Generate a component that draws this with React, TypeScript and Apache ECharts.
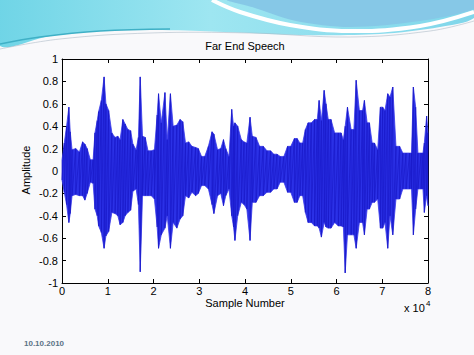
import React, { useEffect, useRef } from "react";
import * as echarts from "echarts";

// sample positions (x 10^4 samples)
const envX = [
  0.0, 0.05, 0.1, 0.15, 0.18, 0.22, 0.3, 0.38, 0.45, 0.5, 0.55, 0.62, 0.68, 0.72, 0.77, 0.8, 0.86, 0.92, 0.96,
  1.02, 1.09, 1.16, 1.22, 1.27, 1.33, 1.38, 1.44, 1.5, 1.55, 1.62, 1.67, 1.71, 1.76, 1.82, 1.88, 1.95,
  2.02, 2.08, 2.11, 2.17, 2.25, 2.3, 2.37, 2.43, 2.51, 2.58, 2.64, 2.7, 2.77, 2.84, 2.92, 2.98,
  3.05, 3.12, 3.2, 3.28, 3.32, 3.4, 3.47, 3.53, 3.58, 3.65, 3.71, 3.75, 3.78, 3.84, 3.92, 3.98,
  4.04, 4.11, 4.16, 4.24, 4.32, 4.4, 4.48, 4.56, 4.63, 4.7, 4.77, 4.85, 4.93,
  5.0, 5.08, 5.14, 5.2, 5.26, 5.32, 5.38, 5.45, 5.52, 5.58, 5.62, 5.67, 5.73, 5.77, 5.82, 5.88, 5.96,
  6.04, 6.1, 6.15, 6.19, 6.24, 6.32, 6.38, 6.43, 6.5, 6.57, 6.61, 6.67, 6.72, 6.78, 6.83, 6.9, 6.96,
  7.01, 7.06, 7.12, 7.17, 7.23, 7.3, 7.38, 7.45, 7.52, 7.6, 7.64, 7.68, 7.73, 7.78, 7.85, 7.89, 7.92, 7.97, 8.0,
];
// upper envelope of the waveform (amplitude)
const envUpper = [
  0.1, 0.25, 0.4, 0.57, 0.35, 0.19, 0.2, 0.17, 0.26, 0.24, 0.2, 0.1, 0.1, 0.34, 0.45, 0.53, 0.63, 0.84, 0.6,
  0.54, 0.34, 0.3, 0.31, 0.28, 0.46, 0.42, 0.37, 0.36, 0.24, 0.19, 0.3, 0.84, 0.31, 0.3, 0.18, 0.18,
  0.19, 0.5, 0.69, 0.43, 0.7, 0.28, 0.69, 0.4, 0.41, 0.46, 0.44, 0.25, 0.26, 0.22, 0.21, 0.2,
  0.13, 0.13, 0.22, 0.35, 0.33, 0.19, 0.2, 0.28, 0.2, 0.13, 0.55, 0.4, 0.43, 0.4, 0.28, 0.26,
  0.25, 0.48, 0.31, 0.3, 0.22, 0.22, 0.18, 0.18, 0.15, 0.15, 0.13, 0.13, 0.22,
  0.22, 0.29, 0.29, 0.25, 0.25, 0.37, 0.43, 0.43, 0.46, 0.46, 0.63, 0.45, 0.72, 0.6, 0.46, 0.46, 0.34,
  0.34, 0.34, 0.28, 0.4, 0.57, 0.37, 0.37, 0.81, 0.54, 0.54, 0.63, 0.43, 0.43, 0.25, 0.25, 0.19, 0.57,
  0.57, 0.54, 0.69, 0.66, 0.75, 0.22, 0.22, 0.16, 0.16, 0.16, 0.16, 0.75, 0.57, 0.16, 0.16, 0.16, 0.25, 0.49, 0.34,
];
// lower envelope of the waveform (amplitude)
const envLower = [
  -0.08, -0.19, -0.3, -0.46, -0.38, -0.22, -0.21, -0.22, -0.22, -0.26, -0.2, -0.1, -0.11, -0.34, -0.4, -0.49, -0.55, -0.69, -0.58,
  -0.54, -0.37, -0.38, -0.4, -0.48, -0.46, -0.4, -0.37, -0.35, -0.18, -0.16, -0.3, -0.9, -0.22, -0.22, -0.22, -0.22,
  -0.25, -0.5, -0.69, -0.57, -0.51, -0.4, -0.69, -0.46, -0.51, -0.43, -0.4, -0.22, -0.24, -0.19, -0.22, -0.2,
  -0.13, -0.13, -0.16, -0.3, -0.38, -0.22, -0.2, -0.31, -0.22, -0.16, -0.4, -0.5, -0.62, -0.4, -0.28, -0.3,
  -0.34, -0.62, -0.28, -0.28, -0.22, -0.22, -0.19, -0.19, -0.16, -0.16, -0.1, -0.1, -0.19,
  -0.19, -0.28, -0.28, -0.22, -0.22, -0.37, -0.46, -0.46, -0.49, -0.49, -0.51, -0.59, -0.46, -0.5, -0.51, -0.51, -0.46,
  -0.49, -0.49, -0.5, -0.91, -0.57, -0.57, -0.57, -0.69, -0.46, -0.46, -0.57, -0.34, -0.34, -0.28, -0.28, -0.25, -0.51,
  -0.51, -0.46, -0.69, -0.4, -0.57, -0.25, -0.25, -0.16, -0.16, -0.16, -0.16, -0.57, -0.34, -0.16, -0.16, -0.16, -0.37, -0.22, -0.31,
];

const SCALE = 10000;
const FILL = "#2b31e6";
const LINE = "#1818c8";

export default function App() {
  const ref = useRef<HTMLDivElement>(null);
  useEffect(() => {
    if (!ref.current) return;
    const chart = echarts.init(ref.current, undefined, { renderer: "svg" });
    const upper = envX.map((x, i) => [x * SCALE, envUpper[i]]);
    const lower = envX.map((x, i) => [x * SCALE, envLower[i]]);
    const zig: number[][] = [];
    envX.forEach((x, i) => {
      zig.push([x * SCALE, envUpper[i]]);
      zig.push([x * SCALE, envLower[i]]);
    });
    const font = "'Liberation Sans', Arial, Helvetica, sans-serif";
    const mkLine = () => ({ show: true, onZero: false, lineStyle: { color: "#000", width: 1 } });
    const mkTick = () => ({ show: true, inside: true, length: 4, lineStyle: { color: "#000", width: 1 } });
    chart.setOption({
      animation: false,
      backgroundColor: "#f9f9fb",
      grid: {
        left: 62,
        right: 46,
        top: 59,
        bottom: 72,
        show: true,
        backgroundColor: "#ffffff",
        borderWidth: 0,
      },
      xAxis: [
        {
          type: "value",
          min: 0,
          max: 80000,
          interval: 10000,
          position: "bottom",
          axisLine: mkLine(),
          axisTick: mkTick(),
          splitLine: { show: false },
          axisLabel: {
            color: "#000",
            fontFamily: font,
            fontSize: 11,
            margin: 2,
            formatter: (v: number) => String(v / SCALE),
          },
        },
        {
          type: "value",
          min: 0,
          max: 80000,
          interval: 10000,
          position: "top",
          axisLine: mkLine(),
          axisTick: mkTick(),
          splitLine: { show: false },
          axisLabel: { show: false },
        },
      ],
      yAxis: [
        {
          type: "value",
          min: -1,
          max: 1,
          interval: 0.2,
          position: "left",
          axisLine: mkLine(),
          axisTick: mkTick(),
          splitLine: { show: false },
          axisLabel: {
            color: "#000",
            fontFamily: font,
            fontSize: 11,
            margin: 4,
            formatter: (v: number) => String(Math.round(v * 10) / 10),
          },
        },
        {
          type: "value",
          min: -1,
          max: 1,
          interval: 0.2,
          position: "right",
          axisLine: mkLine(),
          axisTick: mkTick(),
          splitLine: { show: false },
          axisLabel: { show: false },
        },
      ],
      series: [
        {
          type: "line",
          data: upper,
          showSymbol: false,
          lineStyle: { color: "#3a3ae8", width: 0.8 },
          areaStyle: { color: FILL, opacity: 1 },
          z: 2,
        },
        {
          type: "line",
          data: lower,
          showSymbol: false,
          lineStyle: { color: "#3a3ae8", width: 0.8 },
          areaStyle: { color: FILL, opacity: 1 },
          z: 2,
        },
        {
          type: "line",
          data: zig,
          showSymbol: false,
          lineStyle: { color: LINE, width: 0.7 },
          z: 3,
        },
      ],
      graphic: [
        {
          type: "polygon",
          shape: {
            points: [
              [0, 0], [474, 0], [474, 18], [440, 27], [380, 34], [300, 35], [200, 31], [120, 30], [50, 36], [0, 46],
            ],
            smooth: 0.3,
          },
          style: {
            fill: new echarts.graphic.LinearGradient(0, 0, 1, 0, [
              { offset: 0, color: "#6ed4e6" },
              { offset: 0.45, color: "#9ee6f1" },
              { offset: 1, color: "#7fd6ea" },
            ]),
          },
          z: -1,
        },
        {
          type: "polyline",
          shape: {
            points: [[212, 0], [240, 12], [290, 25], [350, 31], [420, 26], [474, 12]],
            smooth: 0.4,
          },
          style: { stroke: "#ffffff", lineWidth: 4, fill: "none" },
          z: -1,
        },
        {
          type: "polygon",
          shape: {
            points: [[228, 0], [474, 0], [474, 9], [420, 21], [350, 27], [296, 21], [252, 7]],
            smooth: 0.3,
          },
          style: { fill: "#86c8e7" },
          z: -1,
        },
        {
          type: "polyline",
          shape: {
            points: [[0, 44], [40, 37], [100, 31], [170, 29]],
            smooth: 0.4,
          },
          style: { stroke: "#3fb0c6", lineWidth: 1.5, fill: "none" },
          z: -1,
        },
        {
          type: "polyline",
          shape: {
            points: [[0, 49], [60, 39], [150, 33], [250, 33], [350, 37], [430, 31], [474, 21]],
            smooth: 0.4,
          },
          style: { stroke: "#a8b8c4", lineWidth: 0.8, fill: "none", opacity: 0.7 },
          z: -1,
        },
        {
          type: "text",
          x: 245,
          y: 46,
          style: {
            text: "Far End Speech",
            font: `11px ${font}`,
            fill: "#000",
            align: "center",
            verticalAlign: "middle",
          },
        },
        {
          type: "text",
          x: 245,
          y: 303,
          style: {
            text: "Sample Number",
            font: `11px ${font}`,
            fill: "#000",
            align: "center",
            verticalAlign: "middle",
          },
        },
        {
          type: "text",
          x: 26,
          y: 170,
          rotation: Math.PI / 2,
          style: {
            text: "Amplitude",
            font: `11px ${font}`,
            fill: "#000",
            align: "center",
            verticalAlign: "middle",
          },
        },
        {
          type: "text",
          x: 404,
          y: 308,
          style: {
            text: "x 10",
            font: `11px ${font}`,
            fill: "#000",
            align: "left",
            verticalAlign: "middle",
          },
        },
        {
          type: "text",
          x: 426,
          y: 303,
          style: {
            text: "4",
            font: `8px ${font}`,
            fill: "#000",
            align: "left",
            verticalAlign: "middle",
          },
        },
        {
          type: "text",
          x: 24,
          y: 343,
          style: {
            text: "10.10.2010",
            font: `bold 8px ${font}`,
            fill: "#5b7386",
            align: "left",
            verticalAlign: "middle",
          },
        },
      ],
    });
    return () => chart.dispose();
  }, []);
  return (
    <div
      ref={ref}
      style={{ position: "fixed", left: 0, top: 0, width: 474, height: 355 }}
    />
  );
}
